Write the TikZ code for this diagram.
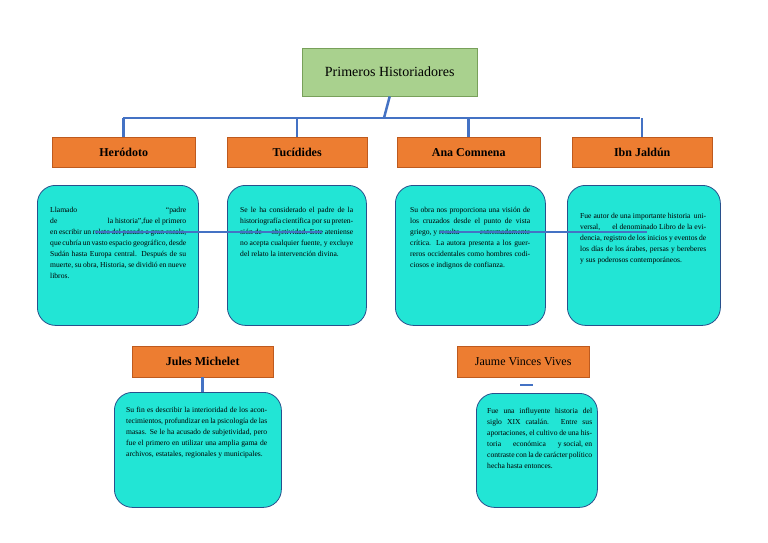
\documentclass[tikz,border=0pt]{standalone}
\usepackage{fontspec}
\setmainfont{Liberation Serif}
\begin{document}
\begin{tikzpicture}[x=1pt,y=-1pt,
  lnk/.style={draw=blue!55!cyan!60!black,line width=2.5pt,color={rgb,255:red,68;green,114;blue,196}},
  hbox/.style={draw={rgb,255:red,190;green,90;blue,30},fill={rgb,255:red,237;green,125;blue,49},font=\bfseries\fontsize{12}{14}\selectfont,inner sep=0pt,anchor=north west},
  tbox/.style={draw={rgb,255:red,40;green,80;blue,140},line width=0.8pt,fill={rgb,255:red,34;green,229;blue,213},rounded corners=18pt,anchor=north west,inner sep=0pt},
  ttext/.style={text width=#1,align=justify,font=\fontsize{7.6}{11}\selectfont,inner sep=0pt}]
\useasboundingbox (0,0) rectangle (768,543);
% title
\node[draw={rgb,255:red,120;green,160;blue,90},fill={rgb,255:red,169;green,209;blue,142},minimum width=175pt,minimum height=48pt,anchor=north west,font=\fontsize{14}{16}\selectfont] (t) at (302,48) {Primeros Historiadores};
\node[hbox,minimum width=143pt,minimum height=30pt] (h1) at (52,137) {Heródoto};
\node[hbox,minimum width=140pt,minimum height=30pt] (h2) at (227,137) {Tucídides};
\node[hbox,minimum width=143pt,minimum height=30pt] (h3) at (397,137) {Ana Comnena};
\node[hbox,minimum width=140pt,minimum height=30pt] (h4) at (572,137) {Ibn Jaldún};
\node[hbox,minimum width=141pt,minimum height=31pt] (h5) at (132,346) {Jules Michelet};
\node[hbox,minimum width=132pt,minimum height=31pt,font=\fontsize{12}{14}\selectfont] (h6) at (457,346) {Jaume Vinces Vives};
% connectors
\coordinate (bar) at (384,118);
\draw[lnk] (t.south) -- (bar);
\draw[lnk] (123,118) -- (640,118);
\draw[lnk] (h1.north) -- (h1.north |- bar);
\draw[lnk] (h2.north) -- (h2.north |- bar);
\draw[lnk] (h3.north) -- (h3.north |- bar);
\draw[lnk] (h4.north) -- (h4.north |- bar);
% teal boxes
\node[tbox,minimum width=161pt,minimum height=140pt] (b1) at (37,185) {};
\node[tbox,minimum width=139pt,minimum height=140pt] (b2) at (227,185) {};
\node[tbox,minimum width=150pt,minimum height=140pt] (b3) at (395,185) {};
\node[tbox,minimum width=153pt,minimum height=140pt] (b4) at (567,185) {};
\node[tbox,minimum width=167pt,minimum height=115pt] (b5) at (114,392) {};
\node[tbox,minimum width=121pt,minimum height=114pt] (b6) at (476,393) {};
\draw[lnk] (h5.south) -- (h5.south |- b5.north);
\coordinate (d1) at (520,385); \coordinate (d2) at (533,385);
\draw[lnk] (d1) -- (d2);
% texts
\node[ttext=136pt,anchor=north west] (x1) at (50,207) {Llamado \hfill ``padre \hfill de \hfill la historia'',fue el primero en escribir un relato del pasado a gran escala, que cubría un vasto espacio geográfico, desde Sudán hasta Europa central. Después de su muerte, su obra, Historia, se dividió en nueve libros.};
\node[ttext=113pt,anchor=north west] (x2) at (240,207) {Se le ha considerado el padre de la historiografía científica por su pretensión de \hfill objetividad. Este ateniense \hfill no \hfill acepta cualquier fuente, y excluye del relato la intervención divina.};
\node[ttext=120pt,anchor=north west] (x3) at (410,207) {Su obra nos proporciona una visión de los cruzados desde el punto de vista griego, y resulta \hfill extremadamente crítica. La autora presenta a los guerreros occidentales como hombres codiciosos e indignos de confianza.};
\node[ttext=126pt,anchor=north west] (x4) at (580,213) {Fue autor de una importante historia \hfill universal, \hfill el denominado Libro de la evidencia, registro de los inicios y eventos de los días de los árabes, persas y bereberes y sus poderosos contemporáneos.};
\node[ttext=141pt,anchor=north west] (x5) at (126,407) {Su fin es describir la interioridad de los acontecimientos, profundizar en la psicología de las masas. Se le ha acusado de subjetividad, pero fue el primero en utilizar una amplia gama de archivos, estatales, regionales y municipales.};
\node[ttext=105pt,anchor=north west] (x6) at (487,408) {Fue una influyente historia del siglo XIX catalán. Entre sus aportaciones, el cultivo de una historia \hfill económica \hfill y social, en contraste con la de carácter político hecha hasta entonces.};
% stray lines across boxes
\coordinate (s1) at (95,232); \coordinate (s2) at (322,232);
\coordinate (s3) at (440,232); \coordinate (s4) at (647,232);
\draw[lnk] (s1) -- (s2);
\draw[lnk] (s3) -- (s4);
\end{tikzpicture}
\end{document}
